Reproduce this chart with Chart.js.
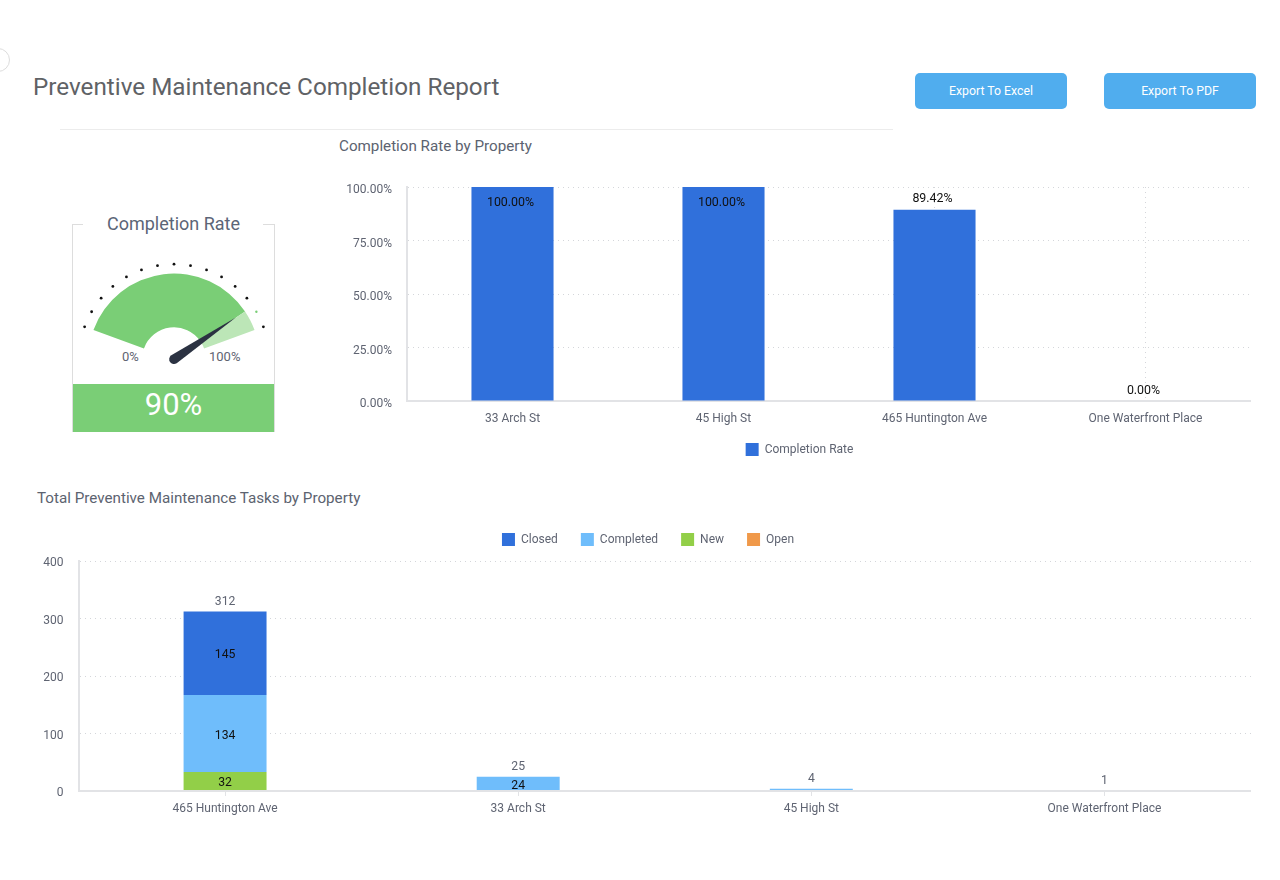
<!DOCTYPE html>
<html>
<head>
<meta charset="utf-8">
<title>Preventive Maintenance Completion Report</title>
<script src="https://cdn.jsdelivr.net/npm/chart.js@4"></script>
<style>
    html, body { margin: 0; padding: 0; background: #fff; width: 1280px; height: 880px; overflow: hidden; font-family: Roboto, sans-serif; }
    .abs { position: absolute; white-space: nowrap; }
    canvas { position: absolute; }
    .btn { background: #50adee; color: #fff; border-radius: 5px; width: 152px; height: 36px; line-height: 36px; text-align: center; font-size: 12.3px; top: 73px; }
    .sub { color: #5c6370; font-size: 15.2px; }
</style>
</head>
<body>
<div class="abs" style="left:-14px;top:48px;width:22px;height:22px;border:1px solid #ddd;border-radius:50%"></div>
<div class="abs" style="left:33px;top:73px;font-size:24.25px;color:#5f6266">Preventive Maintenance Completion Report</div>
<div class="abs btn" style="left:915px">Export To Excel</div>
<div class="abs btn" style="left:1104px">Export To PDF</div>
<div class="abs" style="left:60px;top:129px;width:833px;height:1px;background:#ececec"></div>
<div class="abs sub" style="left:339px;top:137px">Completion Rate by Property</div>
<div class="abs sub" style="left:37px;top:489px">Total Preventive Maintenance Tasks by Property</div>

<div class="abs" style="left:72px;top:224px;width:11px;height:1px;background:#ddd"></div>
<div class="abs" style="left:263px;top:224px;width:11px;height:1px;background:#ddd"></div>
<div class="abs" style="left:72px;top:224px;width:1px;height:208px;background:#ddd"></div>
<div class="abs" style="left:274px;top:224px;width:1px;height:208px;background:#ddd"></div>
<div class="abs" style="left:73px;top:213px;width:201px;text-align:center;font-size:18px;color:#5c6577">Completion Rate</div>
<div class="abs" style="left:73px;top:384px;width:201px;height:48px;line-height:41px;text-align:center;background:#7ace76;color:#fff;font-size:31px">90%</div>
<div class="abs" style="left:122px;top:349px;font-size:13px;color:#5f6472">0%</div>
<div class="abs" style="left:209px;top:349px;font-size:13px;color:#5f6472">100%</div>

<canvas id="gauge" width="240" height="240" style="left:54px;top:191px;width:240px;height:240px"></canvas>
<canvas id="rateChart" width="911" height="296" style="left:340px;top:170px;width:911px;height:296px"></canvas>
<canvas id="taskChart" width="1221" height="321" style="left:30px;top:510px;width:1221px;height:321px"></canvas>

<script>
const gaugeValue = [90, 10];
const gaugeColors = ['#7ace76', '#bce6b7'];

const rateLabels = ['33 Arch St', '45 High St', '465 Huntington Ave', 'One Waterfront Place'];
const rateValues = [100, 100, 89.42, 0];
const rateTicks = [0, 25, 50, 75, 100];

const taskLabels = ['465 Huntington Ave', '33 Arch St', '45 High St', 'One Waterfront Place'];
const closedTasks = [145, 0, 0, 0];
const completedTasks = [134, 24, 4, 0];
const newTasks = [32, 0, 0, 0];
const openTasks = [1, 1, 0, 1];

const textColor = '#5f6472';
const gridColor = '#d4d6da';
const axisColor = '#e2e3e6';

Chart.defaults.font.family = 'Roboto';
Chart.defaults.font.size = 12;
Chart.defaults.color = textColor;
Chart.defaults.animation = false;

// dots around the gauge and the needle, both follow the arcs
const gaugeDial = {
    id: 'gaugeDial',
    afterDatasetsDraw(chart) {
        const arcs = chart.getDatasetMeta(0).data;
        const c = chart.ctx;
        const x = arcs[0].x, y = arcs[0].y;
        const start = arcs[0].startAngle;
        const end = arcs[arcs.length - 1].endAngle;
        const needle = arcs[0].endAngle;
        const r = arcs[0].outerRadius;
        let marked = false;
        c.save();
        for (let i = 0; i < 15; i++) {
            const a = start + (end - start) * i / 14;
            const hit = !marked && a > needle;
            if (hit) marked = true;
            c.fillStyle = hit ? '#7ace76' : '#111';
            c.beginPath();
            c.arc(x + Math.cos(a) * r * 1.11, y + Math.sin(a) * r * 1.11, hit ? 1.2 : 1.4, 0, Math.PI * 2);
            c.fill();
        }
        const len = r * 0.87;
        const nx = Math.cos(needle), ny = Math.sin(needle);
        c.fillStyle = '#2b3242';
        c.beginPath();
        c.arc(x, y, 4.8, needle + Math.PI / 2, needle - Math.PI / 2);
        c.lineTo(x + nx * len, y + ny * len);
        c.closePath();
        c.fill();
        c.restore();
    }
};

new Chart(document.getElementById('gauge'), {
    type: 'doughnut',
    data: {
        datasets: [{
            data: gaugeValue,
            backgroundColor: gaugeColors,
            borderWidth: 0
        }]
    },
    options: {
        responsive: false,
        rotation: -70,
        circumference: 140,
        radius: 85.7,
        cutout: '37.3%',
        plugins: { legend: { display: false }, tooltip: { enabled: false } }
    },
    plugins: [gaugeDial]
});

// the legends are not centred on the canvas in the original page
function shiftLegend(dx) {
    return {
        id: 'shiftLegend',
        afterLayout(chart) {
            chart.legend.left += dx;
            chart.legend.right += dx;
        }
    };
}

const rateLabelsPlugin = {
    id: 'rateLabelsPlugin',
    afterDatasetsDraw(chart) {
        const c = chart.ctx;
        c.save();
        c.font = '12.4px Roboto';
        c.fillStyle = '#111';
        c.textAlign = 'center';
        c.textBaseline = 'middle';
        chart.getDatasetMeta(0).data.forEach((bar, i) => {
            const v = rateValues[i];
            c.fillText(v.toFixed(2) + '%', bar.x - 2, v === 100 ? bar.y + 15.5 : bar.y - 10.5);
        });
        c.restore();
    }
};

new Chart(document.getElementById('rateChart'), {
    type: 'bar',
    data: {
        labels: rateLabels,
        datasets: [{
            label: 'Completion Rate',
            data: rateValues,
            backgroundColor: '#3070db',
            barPercentage: 0.389,
            categoryPercentage: 1
        }]
    },
    options: {
        responsive: false,
        layout: { padding: { top: 17 } },
        scales: {
            x: {
                afterFit(scale) { scale.height = 32; },
                border: { color: axisColor, width: 2, dash: [1, 4] },
                grid: { offset: false, color: gridColor, drawTicks: false },
                ticks: { padding: 11 }
            },
            y: {
                min: 0,
                max: 100,
                afterFit(scale) {
                    scale.width = 67;
                    scale.paddingTop = 0;
                    scale.paddingBottom = 0;
                },
                afterBuildTicks(scale) { scale.ticks = rateTicks.map(v => ({ value: v })); },
                border: { color: axisColor, width: 2, dash: [1, 4] },
                grid: { color: gridColor, drawTicks: false },
                ticks: { padding: 15, labelOffset: 3, callback: v => v.toFixed(2) + '%' }
            }
        },
        plugins: {
            tooltip: { enabled: false },
            legend: {
                position: 'bottom',
                labels: { boxWidth: 13, boxHeight: 13, padding: 10 }
            }
        }
    },
    plugins: [rateLabelsPlugin, shiftLegend(4)]
});

// legend keeps its wide item gap without pushing the plot down
const snugLegend = {
    id: 'snugLegend',
    beforeLayout(chart) {
        const legend = chart.legend;
        if (legend.snug) return;
        const fit = legend.fit;
        legend.fit = function () {
            fit.call(this);
            this.height = 51;
        };
        legend.snug = true;
    }
};

const taskLabelsPlugin = {
    id: 'taskLabelsPlugin',
    afterDatasetsDraw(chart) {
        const c = chart.ctx;
        const y = chart.scales.y;
        c.save();
        c.font = '12.2px Roboto';
        c.textAlign = 'center';
        c.textBaseline = 'middle';
        const totals = taskLabels.map(() => 0);
        chart.data.datasets.forEach((ds, d) => {
            chart.getDatasetMeta(d).data.forEach((bar, i) => {
                totals[i] += ds.data[i];
                if (ds.data[i] >= 20) {
                    c.fillStyle = '#111';
                    c.fillText(ds.data[i], bar.x, (bar.y + bar.base) / 2 + 2);
                }
            });
        });
        c.fillStyle = textColor;
        chart.getDatasetMeta(0).data.forEach((bar, i) => {
            c.fillText(totals[i], bar.x, y.getPixelForValue(totals[i]) - 9.5);
        });
        c.restore();
    }
};

// drawn bottom-up, the legend reads the other way round
new Chart(document.getElementById('taskChart'), {
    type: 'bar',
    data: {
        labels: taskLabels,
        datasets: [
            { label: 'Open', data: openTasks, backgroundColor: '#f0994a' },
            { label: 'New', data: newTasks, backgroundColor: '#92cf48' },
            { label: 'Completed', data: completedTasks, backgroundColor: '#6fbdfb' },
            { label: 'Closed', data: closedTasks, backgroundColor: '#3070db' }
        ]
    },
    options: {
        responsive: false,
        datasets: { bar: { barPercentage: 0.283, categoryPercentage: 1 } },
        scales: {
            x: {
                stacked: true,
                afterFit(scale) { scale.height = 40; },
                border: { color: axisColor, width: 2, z: 1 },
                grid: { offset: false, drawOnChartArea: false, tickLength: 5, tickColor: axisColor },
                ticks: { padding: 6 }
            },
            y: {
                stacked: true,
                min: 0,
                max: 400,
                afterFit(scale) { scale.width = 48.5; },
                border: { color: axisColor, width: 2, dash: [1, 4] },
                grid: { color: gridColor, drawTicks: false },
                ticks: { padding: 15, labelOffset: 2, stepSize: 100 }
            }
        },
        plugins: {
            tooltip: { enabled: false },
            legend: {
                reverse: true,
                labels: { boxWidth: 13, boxHeight: 13, padding: 23 }
            }
        }
    },
    plugins: [snugLegend, taskLabelsPlugin, shiftLegend(7.5)]
});
</script>
</body>
</html>
